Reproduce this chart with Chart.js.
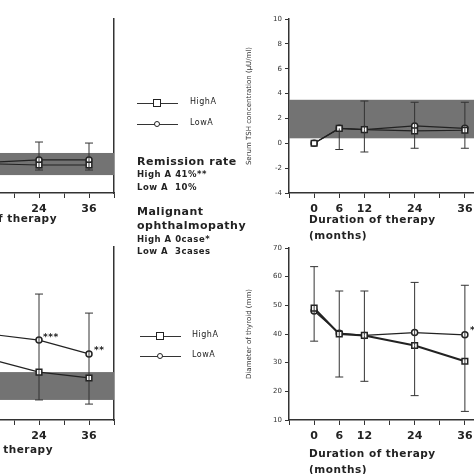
<!DOCTYPE html>
<html>
<head>
<meta charset="UTF-8">
<script src="https://cdn.jsdelivr.net/npm/chart.js"></script>
<style>
body{margin:0;width:474px;height:474px;overflow:hidden;background:#fff;position:relative;font-family:"DejaVu Sans",sans-serif;color:#222}
canvas{position:absolute}
.t{position:absolute;white-space:nowrap;font-weight:bold;letter-spacing:0.5px}
.lg{position:absolute;height:1px;background:#333}
.mk{position:absolute;background:#fff;border:1.5px solid #222}
</style>
</head>
<body>
<canvas id="c1" width="250" height="240" style="left:-130px;top:0"></canvas>
<canvas id="c2" width="260" height="240" style="left:237px;top:0"></canvas>
<canvas id="c3" width="250" height="240" style="left:-130px;top:237px"></canvas>
<canvas id="c4" width="260" height="240" style="left:237px;top:237px"></canvas>

<div class="t" style="left:0;top:212px;width:57px;text-align:right;font-size:10.5px;direction:rtl">Duration of therapy</div>
<div class="t" style="left:0;top:443px;width:53px;text-align:right;font-size:10.5px;direction:rtl">Duration of therapy</div>
<div class="t" style="left:309px;top:213px;font-size:10.5px">Duration of therapy</div>
<div class="t" style="left:309px;top:229px;font-size:10.5px">(months)</div>
<div class="t" style="left:309px;top:447px;font-size:10.5px">Duration of therapy</div>
<div class="t" style="left:309px;top:463px;font-size:10.5px">(months)</div>

<div class="lg" style="left:137px;top:103px;width:41px"></div>
<div class="mk" style="left:153px;top:99px;width:6px;height:6px"></div>
<div class="t" style="left:190px;top:97px;font-size:8px;font-weight:normal">HighA</div>
<div class="lg" style="left:137px;top:124px;width:41px"></div>
<div class="mk" style="left:154px;top:121px;width:4px;height:4px;border-radius:50%"></div>
<div class="t" style="left:190px;top:118px;font-size:8px;font-weight:normal">LowA</div>

<div class="t" style="left:137px;top:155px;font-size:11px">Remission rate</div>
<div class="t" style="left:137px;top:169px;font-size:8.5px">High A 41%**</div>
<div class="t" style="left:137px;top:182px;font-size:8.5px">Low A&nbsp; 10%</div>
<div class="t" style="left:137px;top:205px;font-size:11px">Malignant</div>
<div class="t" style="left:137px;top:219px;font-size:11px">ophthalmopathy</div>
<div class="t" style="left:137px;top:234px;font-size:8.5px">High A 0case*</div>
<div class="t" style="left:137px;top:246px;font-size:8.5px">Low A&nbsp; 3cases</div>

<div class="lg" style="left:140px;top:336px;width:41px"></div>
<div class="mk" style="left:156px;top:332px;width:6px;height:6px"></div>
<div class="t" style="left:192px;top:330px;font-size:8px;font-weight:normal">HighA</div>
<div class="lg" style="left:140px;top:356px;width:41px"></div>
<div class="mk" style="left:157px;top:353px;width:4px;height:4px;border-radius:50%"></div>
<div class="t" style="left:192px;top:350px;font-size:8px;font-weight:normal">LowA</div>

<div class="t" style="left:43px;top:332px;font-size:9px">***</div>
<div class="t" style="left:94px;top:345px;font-size:9px">**</div>
<div class="t" style="left:470px;top:325px;font-size:9px">*</div>

<script>
const months = [0, 6, 12, 24, 36];
const xTickLabels = [0, 6, 12, 24, 36];

// top left panel (y axis not visible, relative units)
const tlHigh = [16, 16, 16.8, 16.1, 16.1];
const tlLow = [18, 18, 17.6, 19, 19];
const tlErrUp = [null, null, null, 29.3, 28.7];
const tlErrDown = [null, null, null, 13.2, 13.2];
const tlBand = [10.3, 23];

// top right: serum TSH
const tshHigh = [0, 1.2, 1.1, 1.0, 1.05];
const tshLow = [0, 1.2, 1.1, 1.4, 1.2];
const tshErrUp = [null, null, 3.4, 3.3, 3.3];
const tshErrDown = [null, -0.5, -0.7, -0.4, -0.4];
const tshBand = [0.4, 3.5];
const tshTicks = [-4, -2, 0, 2, 4, 6, 8, 10];

// bottom left panel (relative units)
const blHigh = [44, 40, 35.3, 27.7, 24.3];
const blLow = [60, 54, 49.7, 46.2, 38.2];
const blErrUp = [null, null, null, 72.8, 61.8];
const blErrDown = [null, null, null, 11.6, 9.2];
const blBand = [11.6, 27.7];

// bottom right: diameter of thyroid
const diaHigh = [49, 40, 39.5, 36, 30.5];
const diaLow = [48, 40.3, 39.5, 40.5, 39.7];
const diaErrUp = [63.5, 55, 55, 58, 57];
const diaErrDown = [37.5, 25, 23.5, 18.5, 13];
const diaTicks = [10, 20, 30, 40, 50, 60, 70];

const pts = vals => months.map((m, i) => ({x: m, y: vals[i]}));

const extras = {
    id: 'extras',
    beforeDatasetsDraw(chart, args, o) {
        const {ctx, chartArea: a, scales: {y}} = chart;
        const y1 = y.getPixelForValue(o.band[1]), y0 = y.getPixelForValue(o.band[0]);
        ctx.save();
        ctx.fillStyle = '#737373';
        ctx.fillRect(a.left, y1, a.right - a.left, y0 - y1);
        ctx.restore();
    },
    afterDatasetsDraw(chart, args, o) {
        const {ctx, scales: {x, y}} = chart;
        ctx.save();
        ctx.strokeStyle = '#333';
        ctx.lineWidth = 1;
        months.forEach((m, i) => {
            const px = x.getPixelForValue(m);
            [o.up[i], o.down[i]].forEach(v => {
                if (v === null) return;
                const py = y.getPixelForValue(v);
                const c = y.getPixelForValue(o.mid[i]);
                ctx.beginPath();
                ctx.moveTo(px, c); ctx.lineTo(px, py);
                ctx.moveTo(px - 4, py); ctx.lineTo(px + 4, py);
                ctx.stroke();
            });
        });
        ctx.restore();
    }
};

function makeChart(id, cfg) {
    const showY = !!cfg.yTicks;
    new Chart(document.getElementById(id), {
        type: 'line',
        data: {
            datasets: [
                {label: 'HighA', data: pts(cfg.high), borderColor: '#222', borderWidth: cfg.hw || 1.2,
                 pointStyle: 'rect', pointRadius: 4, pointBackgroundColor: '#fff', pointBorderColor: '#222', pointBorderWidth: 1.5, tension: 0},
                {label: 'LowA', data: pts(cfg.low), borderColor: '#222', borderWidth: 1.2,
                 pointStyle: 'circle', pointRadius: 3, pointBackgroundColor: '#fff', pointBorderColor: '#222', pointBorderWidth: 1.5, tension: 0}
            ]
        },
        options: {
            responsive: false,
            animation: false,
            layout: {padding: cfg.pad},
            plugins: {
                legend: {display: false}, tooltip: {enabled: false},
                extras: {band: cfg.band, up: cfg.up, down: cfg.down, mid: cfg.mid}
            },
            scales: {
                x: {
                    type: 'linear', min: -6, max: 42,
                    afterBuildTicks: s => { s.ticks = [-6, 0, 6, 12, 18, 24, 30, 36, 42].map(v => ({value: v})); },
                    afterFit: s => { s.height = cfg.xh; },
                    grid: {drawOnChartArea: false, tickLength: 5, color: '#333'},
                    border: {color: '#333', width: 1.5},
                    ticks: {color: '#222', font: {size: 11, weight: 'bold', family: 'DejaVu Sans'}, padding: 5, maxRotation: 0, autoSkip: false,
                            callback: v => xTickLabels.includes(v) ? String(v) : ''}
                },
                y: showY ? {
                    min: cfg.yTicks[0], max: cfg.yTicks[cfg.yTicks.length - 1],
                    afterBuildTicks: s => { s.ticks = cfg.yTicks.map(v => ({value: v})); },
                    afterFit: s => { s.width = cfg.yw; },
                    grid: {drawOnChartArea: false, tickLength: 4, color: '#333'},
                    border: {color: '#333', width: 1.5},
                    ticks: {color: '#333', font: {size: 7, family: 'DejaVu Sans'}, padding: 3},
                    title: {display: true, text: cfg.yTitle, color: '#333', font: {size: 7, family: 'DejaVu Sans'}, padding: {top: 8, bottom: 0}}
                } : {
                    min: 0, max: 100, position: 'right',
                    afterFit: s => { s.width = 0; },
                    grid: {display: false},
                    border: {color: '#333', width: 1.5},
                    ticks: {display: false}
                }
            }
        },
        plugins: [extras]
    });
}

makeChart('c1', {high: tlHigh, low: tlLow, up: tlErrUp, down: tlErrDown, mid: tlLow, band: tlBand,
    pad: {left: 44, right: 6, top: 19}, xh: 47});
makeChart('c2', {high: tshHigh, low: tshLow, up: tshErrUp, down: tshErrDown, mid: tshLow, band: tshBand,
    yTicks: tshTicks, yTitle: 'Serum TSH concentration (\u03bcU/ml)', yw: 52, pad: {left: 0, right: 7, top: 19}, xh: 47});
makeChart('c3', {high: blHigh, low: blLow, up: blErrUp, down: blErrDown, mid: blLow.map((v, i) => blErrUp[i] !== null ? v : blHigh[i]), band: blBand,
    pad: {left: 44, right: 6, top: 10}, xh: 57});
makeChart('c4', {high: diaHigh, low: diaLow, up: diaErrUp, down: diaErrDown, mid: diaHigh, band: [0, 0],
    yTicks: diaTicks, yTitle: 'Diameter of thyroid (mm)', yw: 52, pad: {left: 0, right: 7, top: 11}, xh: 57, hw: 2});
</script>
</body>
</html>
